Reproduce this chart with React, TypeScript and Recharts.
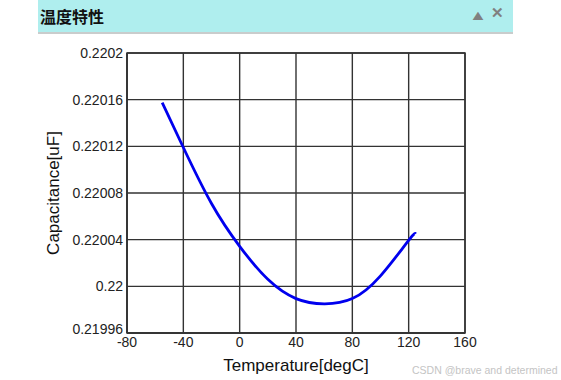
import {
  LineChart,
  Line,
  XAxis,
  YAxis,
  CartesianGrid,
  ReferenceArea,
  Label,
} from "recharts";

// temperature (degC) vs capacitance (uF)
const temps = [-55, -40, -20, 0, 20, 40, 60, 80, 100, 120, 125];
const caps = [
  0.2201575, 0.220119, 0.220071, 0.2200343, 0.220006, 0.2199895, 0.219985,
  0.2199895, 0.220009, 0.2200394, 0.220045,
];
const xTicks = [-80, -40, 0, 40, 80, 120, 160];
const yTicks = [0.21996, 0.22, 0.22004, 0.22008, 0.22012, 0.22016, 0.2202];

const data = temps.map((t, i) => ({ temp: t, cap: caps[i] }));

const fmtY = (v: number) => String(Number(v.toFixed(5)));

// y tick: the lowest label sits a little above its grid line, like the original
const YTick = (props: any) => {
  const { x, y, payload } = props;
  const lift = payload.value === yTicks[0] ? -4 : 0;
  return (
    <text
      x={x - 2}
      y={y + lift}
      dy="0.355em"
      textAnchor="end"
      fill="#222"
      fontSize={14}
    >
      {fmtY(payload.value)}
    </text>
  );
};

export default function App() {
  return (
    <div
      style={{
        position: "fixed",
        left: 0,
        top: 0,
        width: 561,
        height: 380,
        background: "#fff",
        fontFamily: "'Liberation Sans', Arial, sans-serif",
      }}
    >
      {/* panel header */}
      <div
        style={{
          position: "absolute",
          left: 38,
          top: 0,
          width: 475,
          height: 32,
          background: "#afeeee",
          borderBottom: "2px solid #c9cccc",
        }}
      >
        <span
          style={{
            position: "absolute",
            left: 2,
            top: 4,
            fontSize: 16,
            fontWeight: 700,
            color: "#111",
            fontFamily: "'Noto Sans CJK SC', sans-serif",
            lineHeight: "24px",
          }}
        >
          温度特性
        </span>
        <span
          style={{
            position: "absolute",
            left: 433,
            top: 7,
            fontSize: 14,
            color: "#808080",
            transform: "scaleX(1.3)",
          }}
        >
          ▲
        </span>
        <span
          style={{
            position: "absolute",
            left: 453,
            top: 4,
            fontSize: 15,
            fontWeight: 700,
            color: "#808080",
          }}
        >
          ✕
        </span>
      </div>

      <div style={{ position: "absolute", left: 0, top: 0 }}>
        <LineChart
          width={561}
          height={380}
          data={data}
          margin={{ top: 53, right: 96, left: 0, bottom: 0 }}
        >
          <CartesianGrid stroke="#333" strokeWidth={1.4} />
          <XAxis
            dataKey="temp"
            type="number"
            domain={[-80, 160]}
            ticks={xTicks}
            tickLine={false}
            tickSize={0}
            axisLine={{ stroke: "#333", strokeWidth: 1.5 }}
            height={47}
            tickMargin={4}
            tick={{ fill: "#222", fontSize: 14 }}
            interval={0}
          >
            <Label
              value="Temperature[degC]"
              position="insideBottom"
              offset={9}
              style={{ fill: "#111", fontSize: 17 }}
            />
          </XAxis>
          <YAxis
            type="number"
            domain={[0.21996, 0.2202]}
            ticks={yTicks}
            tickLine={false}
            tickSize={0}
            axisLine={{ stroke: "#333", strokeWidth: 1.5 }}
            width={127}
            tick={<YTick />}
            interval={0}
            allowDataOverflow
          >
            <Label
              value="Capacitance[uF]"
              angle={-90}
              position="insideLeft"
              offset={53}
              style={{ fill: "#111", fontSize: 17, textAnchor: "middle" }}
            />
          </YAxis>
          <ReferenceArea
            x1={-80}
            x2={160}
            y1={0.21996}
            y2={0.2202}
            fill="none"
            stroke="#333"
            strokeWidth={1.5}
            ifOverflow="visible"
          />
          <Line
            type="natural"
            dataKey="cap"
            stroke="#0000ee"
            strokeWidth={2.8}
            dot={false}
            isAnimationActive={false}
          />
        </LineChart>
      </div>

      <div
        style={{
          position: "absolute",
          left: 412,
          top: 364,
          fontSize: 10.5,
          color: "#c4c4c4",
          whiteSpace: "nowrap",
        }}
      >
        CSDN @brave and determined
      </div>
    </div>
  );
}
